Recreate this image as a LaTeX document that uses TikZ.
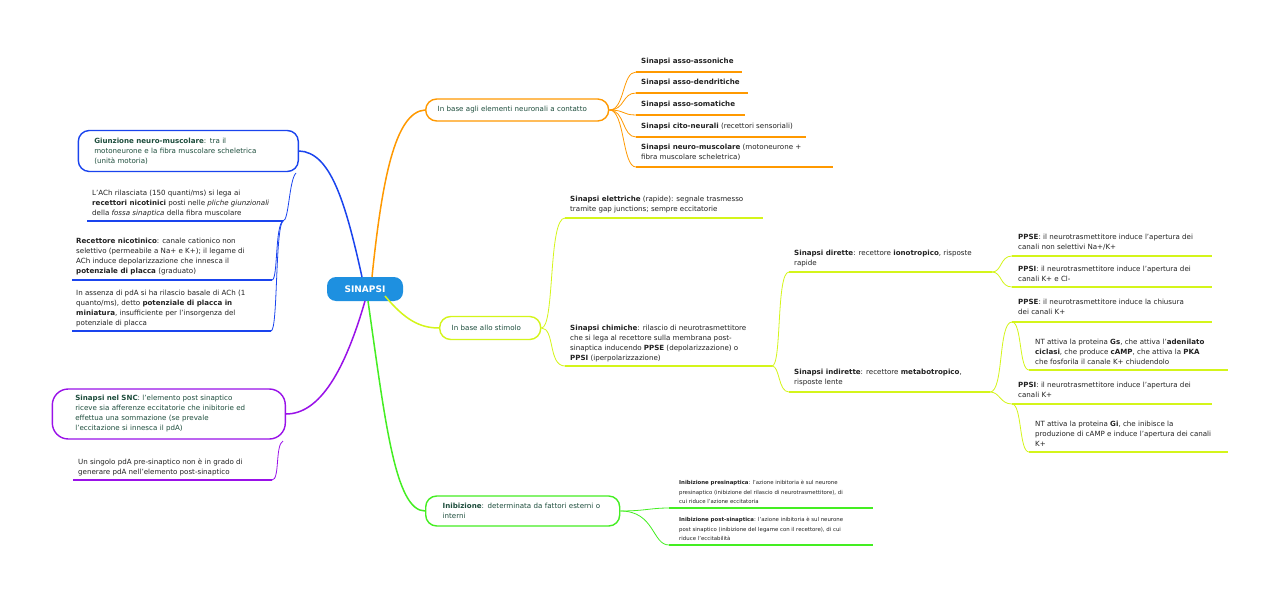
\documentclass[tikz,border=0pt]{standalone}
\usepackage{fontspec}
\setmainfont{DejaVu Sans}
\definecolor{cor}{HTML}{FF9900}
\definecolor{cyl}{HTML}{D4F51A}
\definecolor{cgr}{HTML}{44EE22}
\definecolor{cbl}{HTML}{1A44EE}
\definecolor{cpu}{HTML}{9911E8}
\definecolor{cteal}{HTML}{1D4D3C}
\definecolor{ctx}{HTML}{222222}
\definecolor{ccen}{HTML}{1E90E0}
\begin{document}
\begin{tikzpicture}[x=1pt,y=-1pt,
  txt/.style={anchor=north west,inner sep=0pt,align=left,text=ctx,font=\fontsize{7.1}{10}\selectfont},
  stxt/.style={anchor=north west,inner sep=0pt,align=left,text=ctx,font=\fontsize{5.4}{9.5}\selectfont},
  box/.style={draw=#1,line width=1.4pt,rounded corners=11pt,fill=white,text=cteal,font=\fontsize{7.1}{10}\selectfont,align=left,inner ysep=0pt},
  ul/.style={draw=#1,line width=1.4pt},
  br/.style={draw=#1,line width=1.5pt},
  cn/.style={draw=#1,line width=0.8pt}]
\path[use as bounding box,fill=white] (0,0) rectangle (1280,599);

% centre
\node[fill=ccen,rounded corners=9pt,minimum width=76pt,minimum height=24pt,text=white,font=\bfseries\fontsize{9}{10}\selectfont] (c) at (365,289) {SINAPSI};

% ---------- orange ----------
\node[box=cor,inner xsep=12pt,text width=159pt,minimum height=22pt,anchor=west] (o) at (425,110) {In base agli elementi neuronali a contatto};
\draw[br=cor] (372,277) .. controls (382,180) and (395,112) .. (o.west);
\foreach \y/\xe/\t in {72/742/{\textbf{Sinapsi asso-assoniche}},93/748/{\textbf{Sinapsi asso-dendritiche}},115/745/{\textbf{Sinapsi asso-somatiche}},137/806/{\textbf{Sinapsi cito-neurali} (recettori sensoriali)}}{
  \coordinate (s) at (636,\y);
  \draw[ul=cor] (s) -- (\xe,\y);
  \node[txt] at (641,\y-14) {\t};
  \draw[cn=cor] (o.east) .. controls (625,110) and (622,\y) .. (s);
}
\coordinate (o5) at (636,167);
\draw[ul=cor] (o5) -- (833,167);
\node[txt] at (641,144) {\textbf{Sinapsi neuro-muscolare} (motoneurone +\\fibra muscolare scheletrica)};
\draw[cn=cor] (o.east) .. controls (625,110) and (622,167) .. (o5);

% ---------- yellow ----------
\node[box=cyl,inner xsep=12pt,text width=77pt,minimum height=23pt,anchor=west] (y) at (439,328) {In base allo stimolo};
\draw[br=cyl] (385,296) .. controls (405,320) and (420,328) .. (y.west);
\coordinate (ye) at (565,218); \coordinate (yc) at (565,366);
\draw[ul=cyl] (ye) -- (763,218);
\draw[ul=cyl] (yc) -- (772,366);
\node[txt] at (570,196) {\textbf{Sinapsi elettriche} (rapide): segnale trasmesso\\tramite gap junctions; sempre eccitatorie};
\node[txt] at (570,325) {\textbf{Sinapsi chimiche}: rilascio di neurotrasmettitore\\che si lega al recettore sulla membrana post-\\sinaptica inducendo \textbf{PPSE} (depolarizzazione) o\\\textbf{PPSI} (iperpolarizzazione)};
\draw[cn=cyl] (y.east) .. controls (555,328) and (548,218) .. (ye);
\draw[cn=cyl] (y.east) .. controls (555,328) and (548,366) .. (yc);

\coordinate (dd) at (789,272); \coordinate (di) at (789,392);
\draw[ul=cyl] (dd) -- (992,272);
\draw[ul=cyl] (di) -- (990,392);
\node[txt] at (794,250) {\textbf{Sinapsi dirette}: recettore \textbf{ionotropico}, risposte\\rapide};
\node[txt] at (794,369) {\textbf{Sinapsi indirette}: recettore \textbf{metabotropico},\\risposte lente};
\draw[cn=cyl] (772,366) .. controls (782,366) and (776,272) .. (dd);
\draw[cn=cyl] (772,366) .. controls (780,366) and (778,392) .. (di);

\coordinate (p1) at (1012,256); \coordinate (p2) at (1012,287);
\coordinate (p3) at (1012,322); \coordinate (p4) at (1012,404);
\coordinate (g1) at (1029,370); \coordinate (g2) at (1029,452);
\foreach \c/\e in {p1/1212,p2/1212,p3/1212,p4/1212,g1/1228,g2/1228}{\draw[ul=cyl] (\c) -- (\e,0 |- \c);}
\node[txt] at (1018,234) {\textbf{PPSE}: il neurotrasmettitore induce l'apertura dei\\canali non selettivi Na+/K+};
\node[txt] at (1018,266) {\textbf{PPSI}: il neurotrasmettitore induce l'apertura dei\\canali K+ e Cl-};
\node[txt] at (1018,299) {\textbf{PPSE}: il neurotrasmettitore induce la chiusura\\dei canali K+};
\node[txt] at (1035,339) {NT attiva la proteina \textbf{Gs}, che attiva l'\textbf{adenilato}\\\textbf{ciclasi}, che produce \textbf{cAMP}, che attiva la \textbf{PKA}\\che fosforila il canale K+ chiudendolo};
\node[txt] at (1018,382) {\textbf{PPSI}: il neurotrasmettitore induce l'apertura dei\\canali K+};
\node[txt] at (1035,421) {NT attiva la proteina \textbf{Gi}, che inibisce la\\produzione di cAMP e induce l'apertura dei canali\\K+};
\draw[cn=cyl] (992,272) .. controls (1002,272) and (1000,256) .. (p1);
\draw[cn=cyl] (992,272) .. controls (1002,272) and (1000,287) .. (p2);
\draw[cn=cyl] (990,392) .. controls (1004,392) and (998,322) .. (p3);
\draw[cn=cyl] (990,392) .. controls (1000,392) and (1000,404) .. (p4);
\draw[cn=cyl] (p3) .. controls (1022,322) and (1019,370) .. (g1);
\draw[cn=cyl] (p4) .. controls (1022,404) and (1019,452) .. (g2);

% ---------- green ----------
\node[box=cgr,inner xsep=17pt,text width=160pt,minimum height=30pt,anchor=west] (g) at (425,511) {\textbf{Inibizione}: determinata da fattori esterni o\\interni};
\draw[br=cgr] (368,301) .. controls (385,420) and (395,511) .. (g.west);
\coordinate (i1) at (669,508); \coordinate (i2) at (669,545);
\draw[ul=cgr] (i1) -- (873,508);
\draw[ul=cgr] (i2) -- (873,545);
\node[stxt] at (679,480) {\textbf{Inibizione presinaptica}: l'azione inibitoria è sul neurone\\presinaptico (inibizione del rilascio di neurotrasmettitore), di\\cui riduce l'azione eccitatoria};
\node[stxt] at (679,517) {\textbf{Inibizione post-sinaptica}: l'azione inibitoria è sul neurone\\post sinaptico (inibizione del legame con il recettore), di cui\\riduce l'eccitabilità};
\draw[cn=cgr] (g.east) .. controls (645,511) and (650,508) .. (i1);
\draw[cn=cgr] (g.east) .. controls (655,511) and (652,545) .. (i2);

% ---------- blue ----------
\node[box=cbl,inner xsep=16pt,text width=188pt,minimum height=41pt,anchor=east] (b) at (299,151) {\textbf{Giunzione neuro-muscolare}: tra il\\motoneurone e la fibra muscolare scheletrica\\(unità motoria)};
\draw[br=cbl] (362,277) .. controls (345,200) and (330,152) .. (b.east);
\coordinate (b1) at (87,221); \coordinate (b2) at (72,280); \coordinate (b3) at (72,331);
\draw[ul=cbl] (b1) -- (283,221);
\draw[ul=cbl] (b2) -- (272,280);
\draw[ul=cbl] (b3) -- (271,331);
\node[txt] at (92,190) {L'ACh rilasciata (150 quanti/ms) si lega ai\\\textbf{recettori nicotinici} posti nelle \textit{pliche giunzionali}\\della \textit{fossa sinaptica} della fibra muscolare};
\node[txt] at (76,238) {\textbf{Recettore nicotinico}: canale cationico non\\selettivo (permeabile a Na+ e K+); il legame di\\ACh induce depolarizzazione che innesca il\\\textbf{potenziale di placca} (graduato)};
\node[txt] at (76,290) {In assenza di pdA si ha rilascio basale di ACh (1\\quanto/ms), detto \textbf{potenziale di placca in}\\\textbf{miniatura}, insufficiente per l'insorgenza del\\potenziale di placca};
\draw[cn=cbl] (296,173) .. controls (289,180) and (289,221) .. (283,221);
\draw[cn=cbl] (283,221) .. controls (275,225) and (278,280) .. (272,280);
\draw[cn=cbl] (283,221) .. controls (275,228) and (278,331) .. (271,331);

% ---------- purple ----------
\node[box=cpu,inner xsep=23pt,text width=187pt,minimum height=50pt,rounded corners=16pt,anchor=east] (p) at (286,414) {\textbf{Sinapsi nel SNC}: l'elemento post sinaptico\\riceve sia afferenze eccitatorie che inibitorie ed\\effettua una sommazione (se prevale\\l'eccitazione si innesca il pdA)};
\draw[br=cpu] (365,301) .. controls (345,370) and (320,414) .. (p.east);
\coordinate (q1) at (73,480);
\draw[ul=cpu] (q1) -- (272,480);
\node[txt] at (78,459) {Un singolo pdA pre-sinaptico non è in grado di\\generare pdA nell'elemento post-sinaptico};
\draw[cn=cpu] (283,441) .. controls (275,445) and (280,480) .. (272,480);
\end{tikzpicture}
\end{document}
